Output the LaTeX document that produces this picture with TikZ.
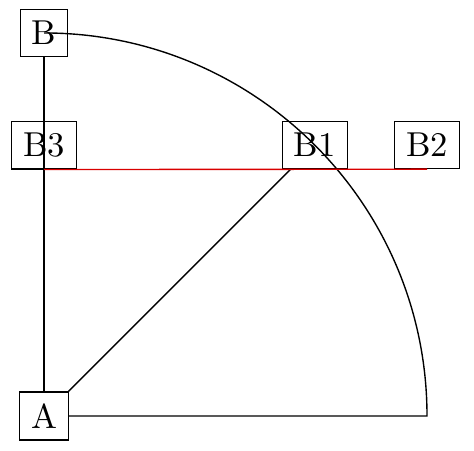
\documentclass[tikz,border=0pt]{standalone}
\begin{document}
\begin{tikzpicture}[box/.style={draw,rectangle}]
\def\R{110.7pt}
\useasboundingbox (-12.72pt,-10.12pt) rectangle (124.28pt,120.23pt);
\node[box] (A) at (0,0) {A};
\node[box] (B) at (90:\R) {B};
\node[box] (B1) at (45:\R) {B1};
\node[box] (B2) at (\R,{0.70711*\R}) {B2};
\node[box] (B3) at (0,{0.70711*\R}) {B3};
\coordinate (E) at (\R,0);
\draw (A) -- (B);
\draw (A) -- (B1);
\draw (A) -- (E) arc[start angle=0,end angle=90,radius=\R];
\draw[red!85!black] (B3.south) -- (B2.south);
\end{tikzpicture}
\end{document}
